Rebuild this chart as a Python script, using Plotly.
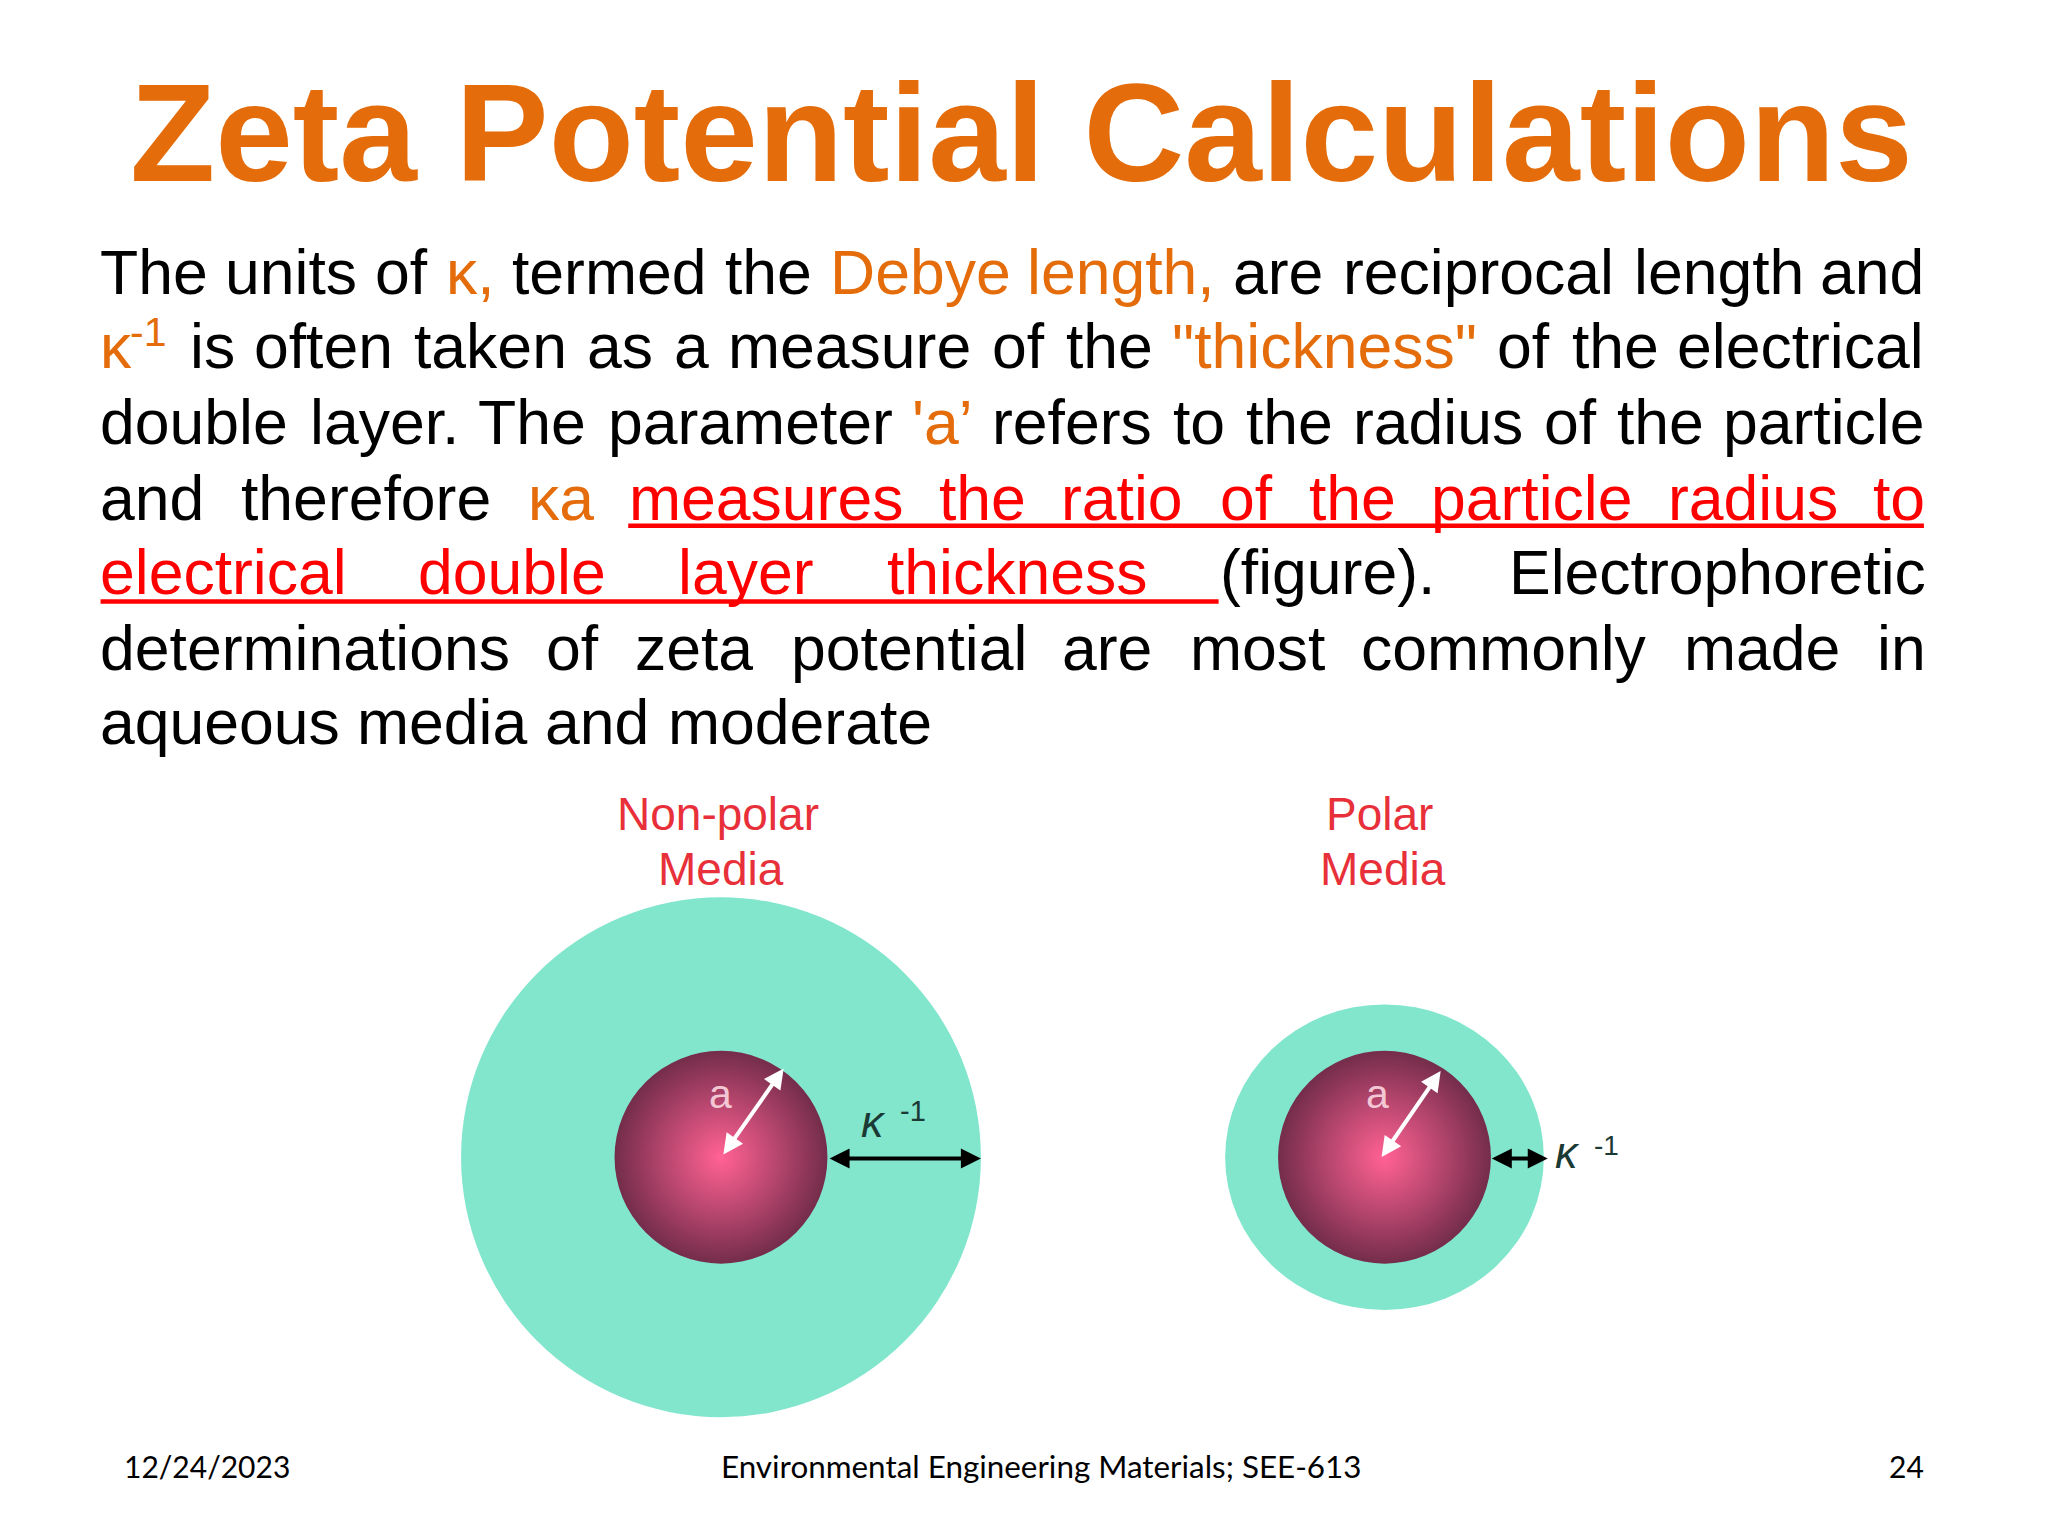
"""
Slide recreation: zeta potential calculations, with the two double layer spheres.
"""

import plotly.graph_objects as go

# Text content
TITLE = "Zeta Potential Calculations"
BODY_WORDS = [
    ["The", "units", "of", "κ,", "termed", "the", "Debye", "length,", "are", "reciprocal", "length", "and"],
    ["κ", "is", "often", "taken", "as", "a", "measure", "of", "the", '"thickness"', "of", "the", "electrical"],
    ["double", "layer.", "The", "parameter", "'a’", "refers", "to", "the", "radius", "of", "the", "particle"],
    ["and", "therefore", "κa", "measures", "the", "ratio", "of", "the", "particle", "radius", "to"],
    ["electrical", "double", "layer", "thickness", "(figure).", "Electrophoretic"],
    ["determinations", "of", "zeta", "potential", "are", "most", "commonly", "made", "in"],
    ["aqueous", "media", "and", "moderate"],
]
# (line, word) indexes of the coloured words
ORANGE_WORDS = [(0, 3), (0, 6), (0, 7), (1, 0), (1, 9), (2, 4), (3, 2)]
RED_WORDS = [(3, 3), (3, 4), (3, 5), (3, 6), (3, 7), (3, 8), (3, 9), (3, 10),
             (4, 0), (4, 1), (4, 2), (4, 3)]
PANEL_LABELS = [["Non-polar", "Media"], ["Polar", "Media"]]
FOOTER_DATE = "12/24/2023"
FOOTER_NAME = "Environmental Engineering Materials; SEE-613"
FOOTER_PAGE = "24"

# Sphere sizes
OUTER_RX = [199, 122]
OUTER_RY = [199, 117]
INNER_R = [81.5, 81.5]
SPHERE_CX = [552, 1060]
SPHERE_CY = [886, 886]

ORANGE = '#E46C0A'
RED = '#FF0000'
LABEL_RED = '#E8303A'
TEAL = '#82E6CD'
FONT = 'Liberation Sans'

# Left edge of every word, in the same units as the axes
BODY_X = [
    [77, 173, 288, 342, 393, 556, 636, 787, 945, 1029, 1252, 1394],
    [77, 146, 195, 318, 450, 517, 558, 760, 817, 898, 1147, 1204, 1285],
    [77, 238, 367, 466, 699, 760, 899, 955, 1037, 1183, 1239, 1320],
    [77, 185, 405, 482, 720, 813, 935, 1003, 1096, 1278, 1435],
    [77, 321, 520, 680, 935, 1156],
    [77, 419, 487, 606, 814, 912, 1043, 1290, 1438],
    [77, 274, 418, 512],
]
BODY_BASE = [225.5, 282.5, 340.5, 398.5, 455.5, 513.5, 570.5]


def add_text(fig, x, base, text, size, color, anchor='left', font=FONT, bold=False, italic=False):
    """Put text with its baseline at about y=base (size in screen px)."""
    label = f'<b>{text}</b>' if bold else text
    label = f'<i>{label}</i>' if italic else label
    fig.add_annotation(
        x=x - 1.5 if anchor == 'left' else x,
        y=base - 0.281 * size,
        text=label,
        showarrow=False,
        xanchor=anchor,
        yanchor='middle',
        borderpad=0,
        font=dict(family=font, size=size, color=color),
    )


def add_arrow(fig, x0, y0, x1, y1, color, width):
    fig.add_annotation(
        x=x1, y=y1, ax=x0, ay=y0,
        xref='x', yref='y', axref='x', ayref='y',
        text='',
        showarrow=True,
        arrowhead=2,
        arrowside='end+start',
        arrowsize=1,
        arrowwidth=width,
        arrowcolor=color,
        standoff=0,
        startstandoff=0,
    )


def add_sphere(fig, cx, cy, rx, ry, r):
    fig.add_shape(type='circle', x0=cx - rx, x1=cx + rx, y0=cy - ry, y1=cy + ry,
                  fillcolor=TEAL, line_width=0, layer='below')
    # Radial shading, dark rim to pink centre
    rings = 50
    for i in range(rings):
        t = i / (rings - 1)
        ring_r = r * (1 - t * 0.97)
        rgb = (int(118 + (255 - 118) * t),
               int(46 + (98 - 46) * t),
               int(76 + (148 - 76) * t))
        fig.add_shape(type='circle', x0=cx - ring_r, x1=cx + ring_r,
                      y0=cy - ring_r, y1=cy + ring_r,
                      fillcolor=f'rgb{rgb}', line_width=0, layer='below')


fig = go.Figure()

# Title and body text
add_text(fig, 782, 141, TITLE, 139.5, ORANGE, anchor='center', bold=True)
for i, words in enumerate(BODY_WORDS):
    for j, word in enumerate(words):
        color = 'black'
        if (i, j) in ORANGE_WORDS:
            color = ORANGE
        elif (i, j) in RED_WORDS:
            color = RED
        add_text(fig, BODY_X[i][j], BODY_BASE[i], word, 62.5, color)
add_text(fig, 100, 266, '-1', 41, ORANGE)

# Underlines
fig.add_shape(type='line', x0=481, x1=1473, y0=402.5, y1=402.5, line=dict(color=RED, width=4.5))
fig.add_shape(type='line', x0=77, x1=933, y0=460.5, y1=460.5, line=dict(color=RED, width=4.5))

# Spheres
for k in range(2):
    add_sphere(fig, SPHERE_CX[k], SPHERE_CY[k], OUTER_RX[k], OUTER_RY[k], INNER_R[k])

add_arrow(fig, 553, 885, 600, 818, 'white', 4)
add_arrow(fig, 1057, 887, 1103, 820, 'white', 4)
add_arrow(fig, 634, 887, 751, 887, 'black', 4)
add_arrow(fig, 1141, 887, 1185, 887, 'black', 4)

for cx, color in zip([552, 1055], ['#F3C6D4', '#F3C6D4']):
    add_text(fig, cx, 849, 'a', 41, color, anchor='center')
add_text(fig, 660, 871, 'κ', 45, '#1c3a34', italic=True)
add_text(fig, 690, 859, '-1', 29, '#1c3a34')
add_text(fig, 1191, 895, 'κ', 45, '#1c3a34', italic=True)
add_text(fig, 1221, 885, '-1', 28, '#1c3a34')

# Panel labels
label_x = [[550, 552], [1056, 1059]]
label_base = [[636, 678], [636, 678]]
for k, rows in enumerate(PANEL_LABELS):
    for m, row in enumerate(rows):
        add_text(fig, label_x[k][m], label_base[k][m], row, 46, LABEL_RED, anchor='center')

# Footer
add_text(fig, 95.5, 1131, FOOTER_DATE, 30, 'black', font='Lato')
add_text(fig, 797, 1131, FOOTER_NAME, 31.4, 'black', anchor='center', font='Lato')
add_text(fig, 1474, 1131, FOOTER_PAGE, 30, 'black', anchor='right', font='Lato')

fig.update_xaxes(range=[0, 1568], visible=False, fixedrange=True)
fig.update_yaxes(range=[1176, 0], visible=False, fixedrange=True)
fig.update_layout(
    width=2048,
    height=1536,
    margin=dict(l=0, r=0, t=0, b=0),
    paper_bgcolor='white',
    plot_bgcolor='white',
    showlegend=False,
)

fig.write_html("out.html", config={'displayModeBar': False},
               post_script="document.body.style.margin='0';")
